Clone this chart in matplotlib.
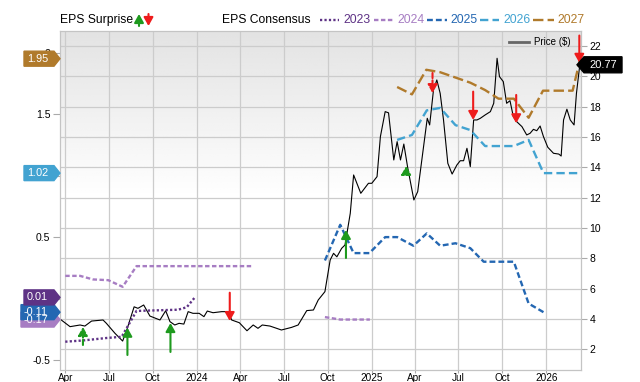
import numpy as np
import pandas as pd
import matplotlib
matplotlib.use("Agg")
from matplotlib import pyplot as plt
from matplotlib.patches import Polygon
from matplotlib.lines import Line2D
from matplotlib.transforms import IdentityTransform
import matplotlib.dates as mdates

plt.rcParams['font.family'] = ['Liberation Sans', 'DejaVu Sans']
plt.rcParams['lines.scale_dashes'] = False

# ---- price ($)
price_dates = [
    "2023-03-22", "2023-04-11", "2023-05-02", "2023-05-12", "2023-05-26", "2023-06-19",
    "2023-06-26", "2023-07-14", "2023-07-30", "2023-08-08", "2023-08-23", "2023-08-31",
    "2023-09-12", "2023-09-25", "2023-10-16", "2023-10-28", "2023-11-06", "2023-11-16",
    "2023-11-25", "2023-12-05", "2023-12-14", "2023-12-24", "2024-01-06", "2024-01-16",
    "2024-01-23", "2024-02-04", "2024-02-22", "2024-03-07", "2024-03-14", "2024-03-30",
    "2024-04-15", "2024-04-28", "2024-05-08", "2024-05-17", "2024-06-02", "2024-06-16",
    "2024-06-26", "2024-07-17", "2024-07-31", "2024-08-18", "2024-09-01", "2024-09-11",
    "2024-09-25", "2024-10-06", "2024-10-13", "2024-10-20", "2024-10-30", "2024-11-06",
    "2024-11-17", "2024-11-24", "2024-12-09", "2024-12-25", "2025-01-01", "2025-01-12",
    "2025-01-19", "2025-01-29", "2025-02-05", "2025-02-16", "2025-02-23", "2025-03-02",
    "2025-03-09", "2025-03-17", "2025-03-30", "2025-04-07", "2025-04-27", "2025-05-02",
    "2025-05-10", "2025-05-17", "2025-05-24", "2025-05-31", "2025-06-09", "2025-06-18",
    "2025-06-28", "2025-07-05", "2025-07-12", "2025-07-19", "2025-07-26", "2025-08-02",
    "2025-08-09", "2025-08-16", "2025-08-26", "2025-09-06", "2025-09-13", "2025-09-20",
    "2025-09-25", "2025-10-03", "2025-10-10", "2025-10-17", "2025-10-24", "2025-10-31",
    "2025-11-11", "2025-11-21", "2025-11-28", "2025-12-05", "2025-12-12", "2025-12-19",
    "2025-12-26", "2026-01-04", "2026-01-16", "2026-01-27", "2026-02-01", "2026-02-06",
    "2026-02-13", "2026-02-20", "2026-02-28", "2026-03-05", "2026-03-12",
]
price_values = [
    3.97, 3.49, 3.60, 3.53, 3.86, 3.93,
    3.71, 3.05, 2.54, 3.31, 4.80, 4.70,
    4.92, 4.19, 3.93, 4.54, 3.82, 3.60,
    3.71, 3.66, 4.48, 4.37, 4.37, 4.15,
    4.52, 4.41, 4.48, 4.48, 3.93, 3.75,
    3.22, 3.60, 3.38, 3.60, 3.53, 3.38,
    3.27, 3.44, 3.60, 4.55, 4.59, 5.25,
    5.80, 7.89, 8.33, 8.10, 8.66, 8.88,
    10.97, 13.50, 12.29, 12.95, 12.95, 13.39,
    16.03, 17.68, 17.60, 14.49, 15.70, 14.49,
    15.54, 14.00, 11.85, 12.40, 17.24, 16.80,
    19.10, 19.77, 18.89, 17.13, 14.27, 13.56,
    14.16, 14.44, 14.44, 15.26, 14.05, 17.13,
    17.13, 17.24, 17.46, 17.68, 18.23, 21.20,
    19.99, 19.66, 18.23, 18.40, 17.35, 17.02,
    16.69, 16.14, 16.25, 16.51, 16.42, 16.73,
    16.03, 15.33, 14.93, 14.88, 14.75, 17.13,
    17.84, 17.13, 16.80, 18.89, 20.77,
]

# ---- EPS consensus by fiscal year
eps23_dates = ["2023-04-01", "2023-05-08", "2023-06-26", "2023-07-28", "2023-08-28",
               "2023-11-23", "2023-12-11", "2023-12-28"]
eps23_values = [-0.35, -0.34, -0.32, -0.31, -0.10, -0.09, -0.07, 0.01]

eps24_dates = ["2023-04-01", "2023-05-02", "2023-05-29", "2023-06-30", "2023-07-30",
               "2023-08-28", "2024-04-25", "2024-06-01",
               "2024-09-25", "2024-10-27", "2024-12-28"]
eps24_values = [0.185, 0.185, 0.156, 0.15, 0.096, 0.264, 0.264, np.nan,
                -0.15, -0.17, -0.17]

eps25_dates = ["2024-09-25", "2024-10-27", "2024-11-24", "2024-12-27", "2025-01-29",
               "2025-02-23", "2025-03-29", "2025-04-26", "2025-05-24", "2025-06-25",
               "2025-07-26", "2025-08-23", "2025-10-25", "2025-11-25", "2025-12-26"]
eps25_values = [0.31, 0.60, 0.37, 0.37, 0.50, 0.50, 0.43, 0.53, 0.43, 0.45,
                0.41, 0.30, 0.30, -0.04, -0.11]

eps26_dates = ["2025-02-23", "2025-03-26", "2025-04-26", "2025-05-24", "2025-06-25",
               "2025-07-26", "2025-08-26", "2025-10-25", "2025-11-25", "2025-12-26",
               "2026-03-13"]
eps26_values = [1.29, 1.33, 1.53, 1.55, 1.41, 1.37, 1.24, 1.24, 1.29, 1.02, 1.02]

eps27_dates = ["2025-02-23", "2025-03-26", "2025-04-25", "2025-05-24", "2025-07-26",
               "2025-08-26", "2025-09-23", "2025-10-25", "2025-11-25", "2025-12-25",
               "2026-02-25", "2026-03-13"]
eps27_values = [1.72, 1.66, 1.86, 1.84, 1.755, 1.695, 1.625, 1.625, 1.47, 1.69,
                1.69, 1.95]

# ---- EPS surprises: date, price at tip, price at tail, beat?, dashed?
surp_dates = ["2023-05-08", "2023-08-09", "2023-11-07", "2024-03-10", "2024-11-08",
              "2025-03-14", "2025-05-08", "2025-08-01", "2025-10-30", "2026-03-11"]
surp_tip = [3.47, 3.42, 3.73, 3.86, 9.87, 14.1, 18.9, 17.13, 16.91, 20.9]
surp_tail = [2.28, 1.62, 1.82, 5.73, 8.02, 13.6, 20.23, 19.0, 18.78, 22.7]
surp_beat = [True, True, True, False, True, True, False, False, False, False]
surp_dashed = [True, False, False, False, False, True, True, False, False, False]

years = ["2023", "2024", "2025", "2026", "2027"]
year_colors = ["#5e3285", "#a77dc3", "#2467b2", "#42a3d1", "#b07a2b"]
year_dashes = [(1.6, 1.6), (3.2, 1.8), (4.2, 2.2), (6, 3), (7.5, 3)]
last_eps = ["0.01", "-0.17", "-0.11", "1.02", "1.95"]

W, H = 640, 382
fig = plt.figure(figsize=(6.4, 3.82), dpi=100)
ax2 = fig.add_axes([60 / W, 1 - 370 / H, 521 / W, 339 / H])
ax = ax2.twinx()
ax.set_zorder(2)
ax2.set_zorder(1)
ax.patch.set_visible(False)

# background gradient
grad = np.concatenate([np.linspace(0.89, 1.0, 60), np.ones(60)])[:, None]
ax2.imshow(np.repeat(grad, 2, axis=1), cmap="gray", vmin=0, vmax=1, aspect="auto",
           extent=[0, 1, 0, 1], transform=ax2.transAxes, zorder=0,
           interpolation="bilinear")

xmin = mdates.date2num(pd.Timestamp("2023-03-21"))
xmax = mdates.date2num(pd.Timestamp("2026-03-14 12:00"))

# price on the right axis
pd_dates = pd.to_datetime(price_dates)
ax2.plot(pd_dates, price_values, color="black", lw=0.8, zorder=3)
ax2.set_ylim(0.63, 23.0)
ax2.set_yticks(range(2, 23, 2))
ax2.yaxis.tick_right()
ax2.grid(True, color="#cccccc", lw=0.9, zorder=1)
ax2.set_axisbelow(True)

# EPS consensus lines on the left axis
eps_sets = [(eps23_dates, eps23_values), (eps24_dates, eps24_values),
            (eps25_dates, eps25_values), (eps26_dates, eps26_values),
            (eps27_dates, eps27_values)]
for (d, v), c, ds in zip(eps_sets, year_colors, year_dashes):
    ax.plot(pd.to_datetime(d), v, color=c, lw=1.7, dashes=ds, zorder=2)
ax.set_ylim(-0.58, 2.175)
ax.set_yticks([-0.5, 0, 0.5, 1, 1.5, 2])
# 0 and 1 sit under the badges in the original
ax.set_yticklabels(["-0.5", "", "0.5", "", "1.5", "2"])
ax.yaxis.tick_left()

# surprise arrows
for d, tip, tail, beat, dash in zip(surp_dates, surp_tip, surp_tail, surp_beat, surp_dashed):
    x = mdates.date2num(pd.Timestamp(d))
    col = "#1e9a1e" if beat else "#ee1c1c"
    ax.annotate("", xy=(x, tip), xytext=(x, tail), xycoords=ax2.transData,
                textcoords=ax2.transData,
                arrowprops=dict(arrowstyle="-|>,head_width=0.28,head_length=0.5",
                                color=col, lw=1.5, linestyle="--" if dash else "-",
                                shrinkA=0, shrinkB=0), zorder=5)

# x axis: quarters
qt = pd.date_range("2023-04-01", "2026-01-01", freq="QS")
ax2.set_xticks(qt)
ax2.set_xticklabels([str(t.year) if t.month == 1 else t.strftime("%b") for t in qt])
ax2.set_xlim(xmin, xmax)
ax.set_xlim(xmin, xmax)

for a in (ax, ax2):
    for s in a.spines.values():
        s.set_color("#c4c4c4")
ax.tick_params(axis="y", length=5, width=0.8, color="#aaaaaa", pad=2, labelsize=7.5)
ax2.tick_params(axis="y", length=4, width=0.8, color="#aaaaaa", pad=2, labelsize=7.5)
ax2.tick_params(axis="x", length=2, width=0.8, color="#aaaaaa", pad=0.3, labelsize=7.2)
ax.tick_params(axis="x", bottom=False, labelbottom=False)

# price legend
ax.legend(handles=[Line2D([], [], color="#666666", lw=2)], labels=["Price ($)"],
          loc="center right", bbox_to_anchor=(0.981, 0.9676), frameon=False, fontsize=7,
          handlelength=2.0, handletextpad=0.6, borderaxespad=0, borderpad=0)

fig.canvas.draw()

def px(x, y):
    return x / W, 1 - y / H

# left badges with the last consensus value of each year
def badge_left(val, text, color, x0):
    _, yd = ax.transData.transform((0, val))
    ytop = H - yd
    pts = [(x0, ytop - 7.5), (54, ytop - 7.5), (60, ytop), (54, ytop + 7.5), (x0, ytop + 7.5)]
    fig.add_artist(Polygon([(p[0], H - p[1]) for p in pts], closed=True, color=color,
                           transform=IdentityTransform(), zorder=10))
    fig.text(*px(x0 + 3, ytop), text, color="white", fontsize=7.8, va="center",
             ha="left", zorder=11)

order = [1, 2, 0, 3, 4]
for i in order:
    x0 = 21 if last_eps[i].startswith("-") else 24
    badge_left(float(last_eps[i]), last_eps[i], year_colors[i], x0)

# right badge: last price
_, yd = ax2.transData.transform((0, price_values[-1]))
yp = H - yd
pts = [(577, yp), (584, yp - 8), (622, yp - 8), (622, yp + 8), (584, yp + 8)]
fig.add_artist(Polygon([(p[0], H - p[1]) for p in pts], closed=True, color="black",
                       transform=IdentityTransform(), zorder=10))
fig.text(*px(589, yp), f"{price_values[-1]:.2f}", color="white", fontsize=8,
         va="center", ha="left", zorder=11)

# top legend
ty = 20
fig.text(*px(60.5, ty), "EPS Surprise", fontsize=8.7, va="center", ha="left")
ax.annotate("", xy=px(139, ty - 6), xytext=px(139, ty + 6), xycoords="figure fraction",
            arrowprops=dict(arrowstyle="-|>,head_width=0.28,head_length=0.5",
                            color="#1e9a1e", lw=1.5, shrinkA=0, shrinkB=0))
ax.annotate("", xy=px(148.5, ty + 6), xytext=px(148.5, ty - 6), xycoords="figure fraction",
            arrowprops=dict(arrowstyle="-|>,head_width=0.28,head_length=0.5",
                            color="#ee1c1c", lw=1.5, shrinkA=0, shrinkB=0))
fig.text(*px(222.5, ty), "EPS Consensus", fontsize=8.7, va="center", ha="left")
sample_x = [(320, 338.5), (374, 394), (426.5, 447), (480, 498.5), (533, 554)]
text_x = [343.5, 397, 450.5, 503.5, 557]
for (x0, x1), tx, yr, c, ds in zip(sample_x, text_x, years, year_colors, year_dashes):
    fig.add_artist(Line2D([x0 / W, x1 / W], [1 - ty / H, 1 - ty / H], color=c, lw=1.7,
                          dashes=ds, transform=fig.transFigure))
    fig.text(*px(tx, ty), yr, color=c, fontsize=8.7, va="center", ha="left")

fig.savefig("out.png", dpi=100)
